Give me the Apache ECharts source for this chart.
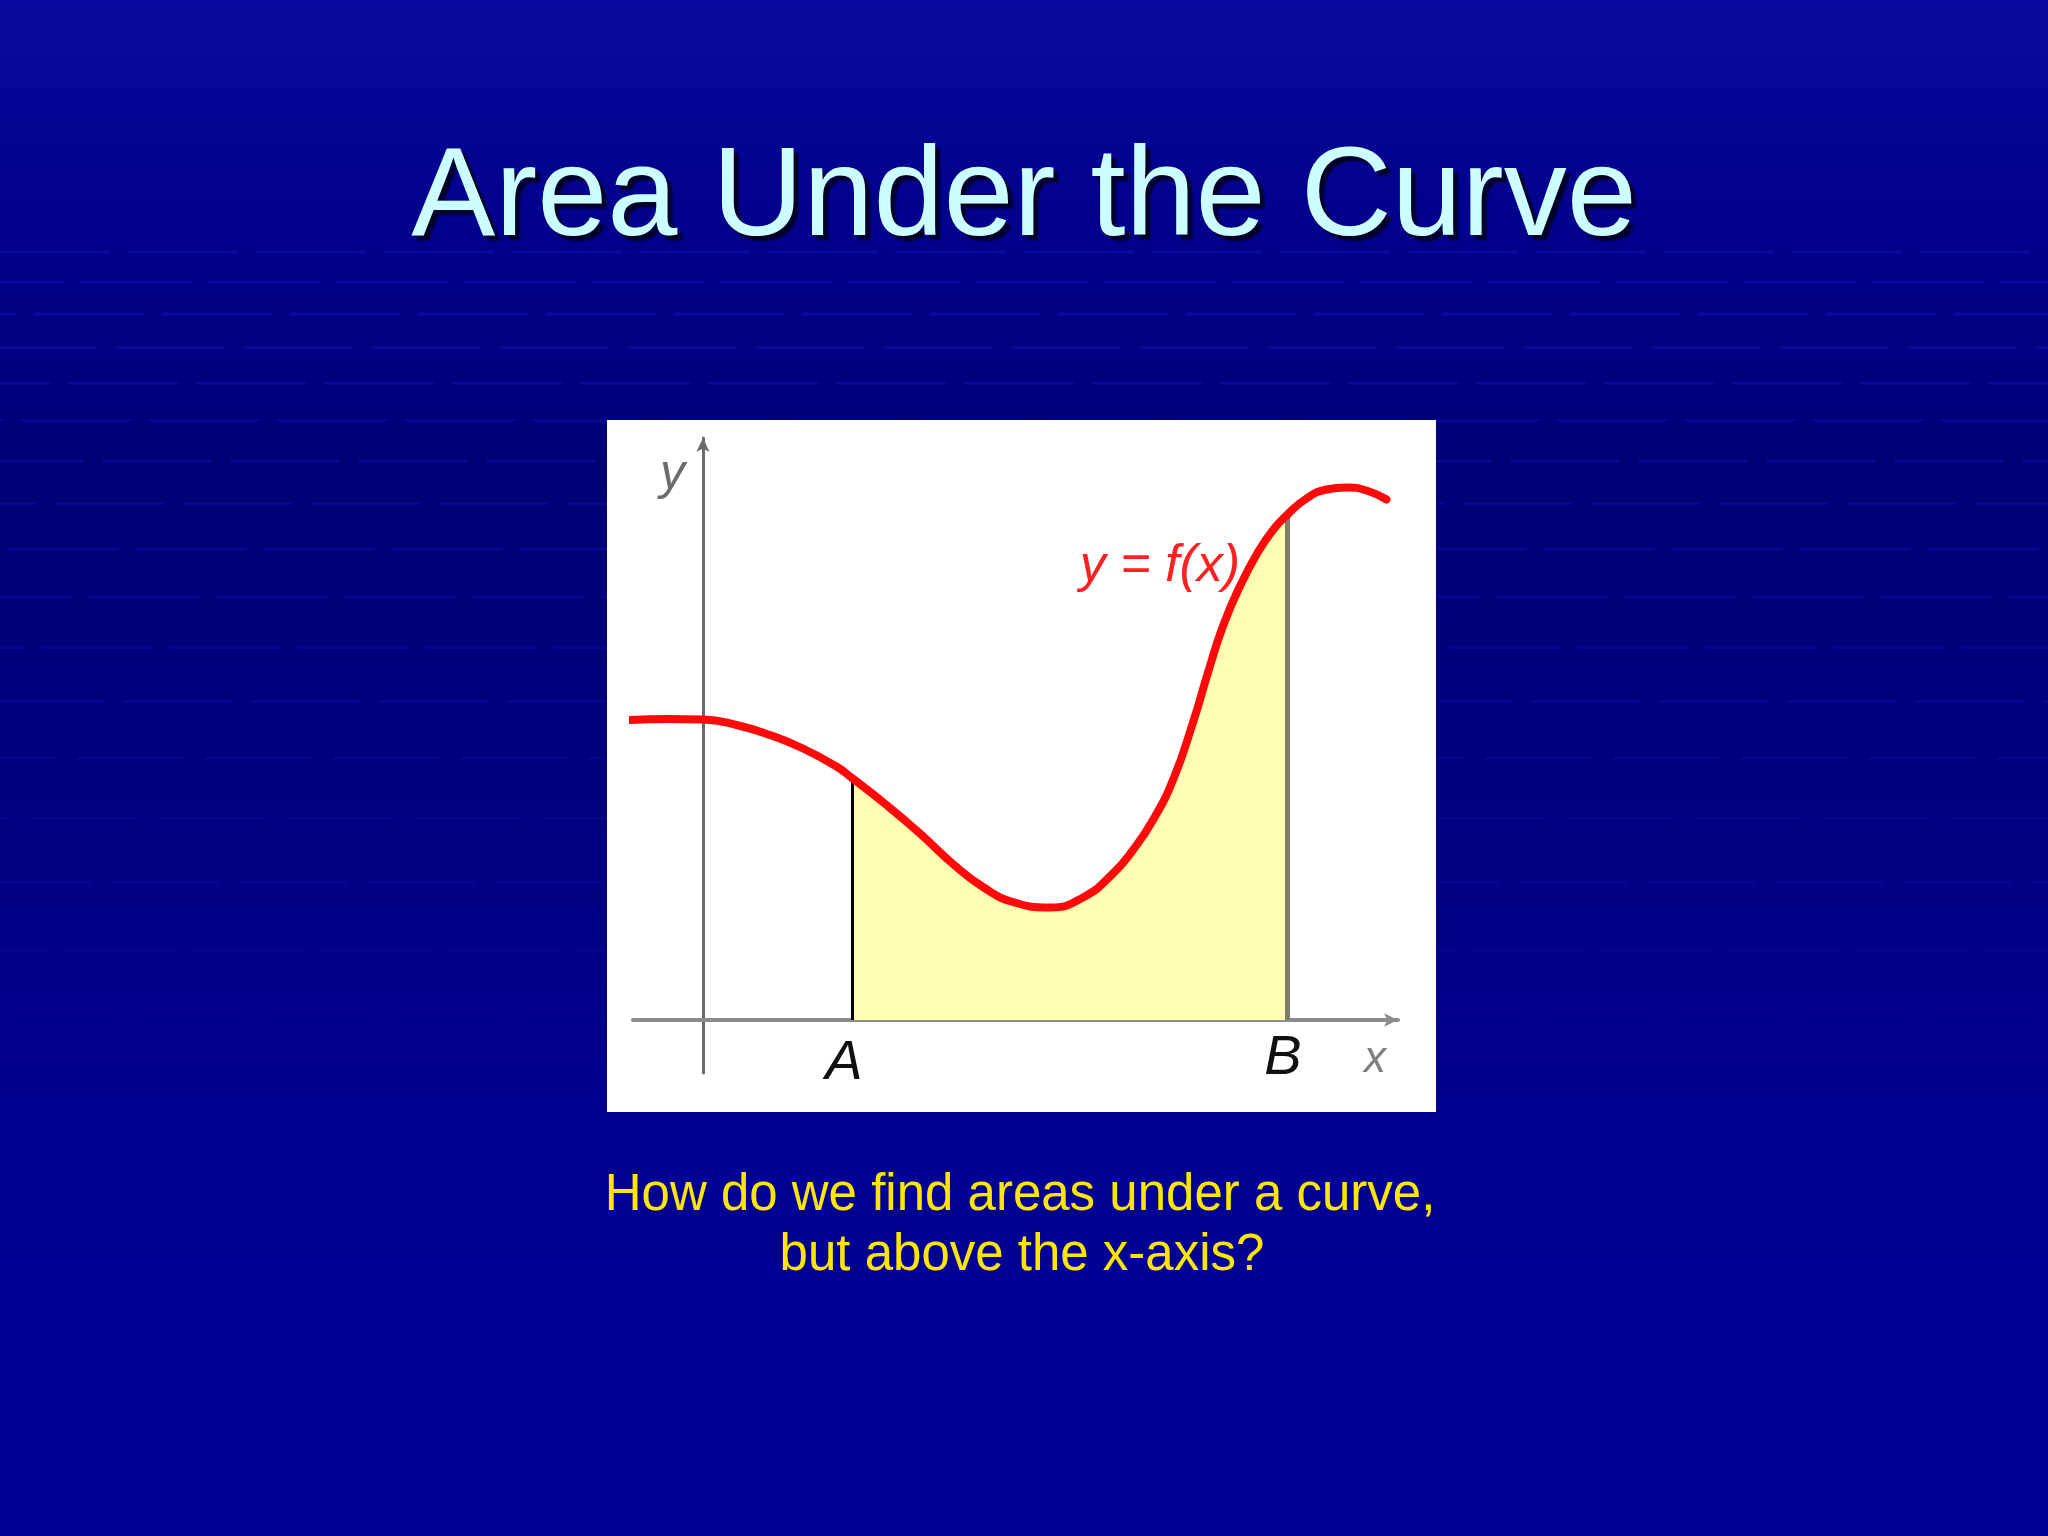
<!DOCTYPE html>
<html>
<head>
<meta charset="utf-8">
<style>
html,body{margin:0;padding:0;background:#00008a;}
#chart{width:2048px;height:1536px;}
</style>
<script src="https://cdn.jsdelivr.net/npm/echarts@6/dist/echarts.min.js"></script>
</head>
<body>
<div id="chart"></div>
<script>
// ---- data (1 unit ≈ 50 px in the original) ----
const curveX = [-1.46, -0.7, 0, 0.67, 1.34, 2.0, 2.67, 2.98, 3.67, 4.34, 5.0, 5.6, 6.2, 6.94, 7.6, 8.2, 8.6, 9.0, 9.4, 9.8, 10.1, 10.4, 10.75, 11.1, 11.4, 11.68, 12.07, 12.47, 12.87, 13.27, 13.67];
const curveY = [6.0, 6.02, 6.01, 5.9, 5.7, 5.43, 5.07, 4.84, 4.3, 3.73, 3.12, 2.66, 2.36, 2.25, 2.45, 2.93, 3.4, 4.0, 4.8, 5.95, 6.95, 7.88, 8.7, 9.36, 9.8, 10.1, 10.43, 10.61, 10.65, 10.59, 10.41];
const boundNames = ['A', 'B'];
const boundX = [2.98, 11.68];
const titleText = 'Area Under the Curve';
const subtitleLines = ['How do we find areas under a curve,', 'but above the x-axis?'];
const curveLabel = 'y = f(x)';

const curve = curveX.map((x, i) => [x, curveY[i]]);
const fillPts = curve.filter(p => p[0] >= boundX[0] && p[0] <= boundX[1]);
const yAt = x => curveY[curveX.indexOf(x)];

const chart = echarts.init(document.getElementById('chart'), null, {renderer: 'canvas'});

// decorative background brick lines
const deco = [];
let yy = 252, gap = 30, row = 0;
while (yy < 1300) {
  deco.push({
    type: 'line', silent: true, z: -9,
    shape: {x1: 0, y1: yy, x2: 2048, y2: yy},
    style: {stroke: '#1414b8', lineWidth: 3, lineDash: [110, 18], lineDashOffset: row * 47, opacity: Math.max(0.12, 0.5 - (yy - 250) / 2000)}
  });
  yy += gap; gap *= 1.06; row++;
}

const FONT = 'Liberation Sans, Arial, sans-serif';
const SMOOTH = 0.5;

const option = {
  animation: false,
  graphic: [
    {type: 'rect', z: -10, silent: true, shape: {x: 0, y: 0, width: 2048, height: 1536},
     style: {fill: new echarts.graphic.LinearGradient(0, 0, 0, 1, [
       {offset: 0, color: '#0a0a9e'},
       {offset: 0.16, color: '#00008a'},
       {offset: 0.3, color: '#000076'},
       {offset: 0.5, color: '#00007e'},
       {offset: 0.75, color: '#000092'},
       {offset: 1, color: '#000098'}
     ])}},
    ...deco,
    {type: 'rect', z: -1, silent: true, shape: {x: 607, y: 420, width: 829, height: 692}, style: {fill: '#ffffff'}},
    {type: 'text', z: 10, left: 'center', top: 137,
     style: {text: titleText, fontFamily: FONT, fontSize: 126, fill: '#ccffff',
             textShadowColor: '#00002a', textShadowOffsetX: 5, textShadowOffsetY: 5, textShadowBlur: 2}},
    {type: 'text', z: 10, x: 1020, y: 1196,
     style: {text: subtitleLines[0], align: 'center', verticalAlign: 'middle', fontFamily: FONT, fontSize: 51, fill: '#ffe600'}},
    {type: 'text', z: 10, x: 1022, y: 1256,
     style: {text: subtitleLines[1], align: 'center', verticalAlign: 'middle', fontFamily: FONT, fontSize: 51, fill: '#ffe600'}},
    {type: 'text', z: 10, x: 1160, y: 567,
     style: {text: curveLabel, align: 'center', verticalAlign: 'middle', fontFamily: FONT, fontStyle: 'italic', fontSize: 52, fill: '#ff2020'}}
  ],
  grid: {left: 633, top: 438, width: 765, height: 635, containLabel: false},
  xAxis: {
    type: 'value', min: -1.4, max: 13.9,
    axisLine: {onZero: true, symbol: ['none', 'arrow'], symbolSize: [10, 14], lineStyle: {color: '#8c8c8c', width: 4}},
    axisTick: {show: false}, axisLabel: {show: false}, splitLine: {show: false},
    name: 'x', nameLocation: 'end', nameGap: -34,
    nameTextStyle: {fontFamily: FONT, fontStyle: 'italic', fontSize: 44, color: '#808080', verticalAlign: 'top', padding: [18, 0, 0, 0]}
  },
  yAxis: {
    type: 'value', min: -1.06, max: 11.64,
    axisLine: {onZero: true, symbol: ['none', 'arrow'], symbolSize: [10, 14], lineStyle: {color: '#6a6a6a', width: 3}},
    axisTick: {show: false}, axisLabel: {show: false}, splitLine: {show: false},
    name: 'y', nameLocation: 'end', nameGap: -62,
    nameTextStyle: {fontFamily: FONT, fontStyle: 'italic', fontSize: 50, color: '#6c6c6c', align: 'right', padding: [0, 18, 0, 0]}
  },
  series: [
    {
      name: 'area', type: 'line', data: fillPts, smooth: SMOOTH, symbol: 'none', z: 2,
      lineStyle: {width: 0}, areaStyle: {color: '#ffffb4', opacity: 1},
      markLine: {
        silent: true, symbol: 'none', label: {show: false},
        data: [
          [{coord: [boundX[0], 0], lineStyle: {color: '#000000', width: 3, type: 'solid'}}, {coord: [boundX[0], yAt(boundX[0])]}],
          [{coord: [boundX[1], 0], lineStyle: {color: '#7d7d6c', width: 5, type: 'solid'}}, {coord: [boundX[1], yAt(boundX[1])]}]
        ]
      },
      markPoint: {
        silent: true, symbol: 'circle', symbolSize: 1, itemStyle: {color: 'rgba(0,0,0,0)'},
        label: {show: true, formatter: '{b}', position: 'inside', fontFamily: FONT, fontStyle: 'italic', fontSize: 56, color: '#111111'},
        data: boundX.map((x, i) => ({name: boundNames[i], coord: [x, 0], label: {offset: [i === 0 ? -8 : -4, i === 0 ? 43 : 38]}}))
      }
    },
    {
      name: 'f', type: 'line', data: curve, smooth: SMOOTH, symbol: 'none', z: 5,
      lineStyle: {color: '#ff0a0a', width: 8, cap: 'round'}
    }
  ]
};
chart.setOption(option);
</script>
</body>
</html>
